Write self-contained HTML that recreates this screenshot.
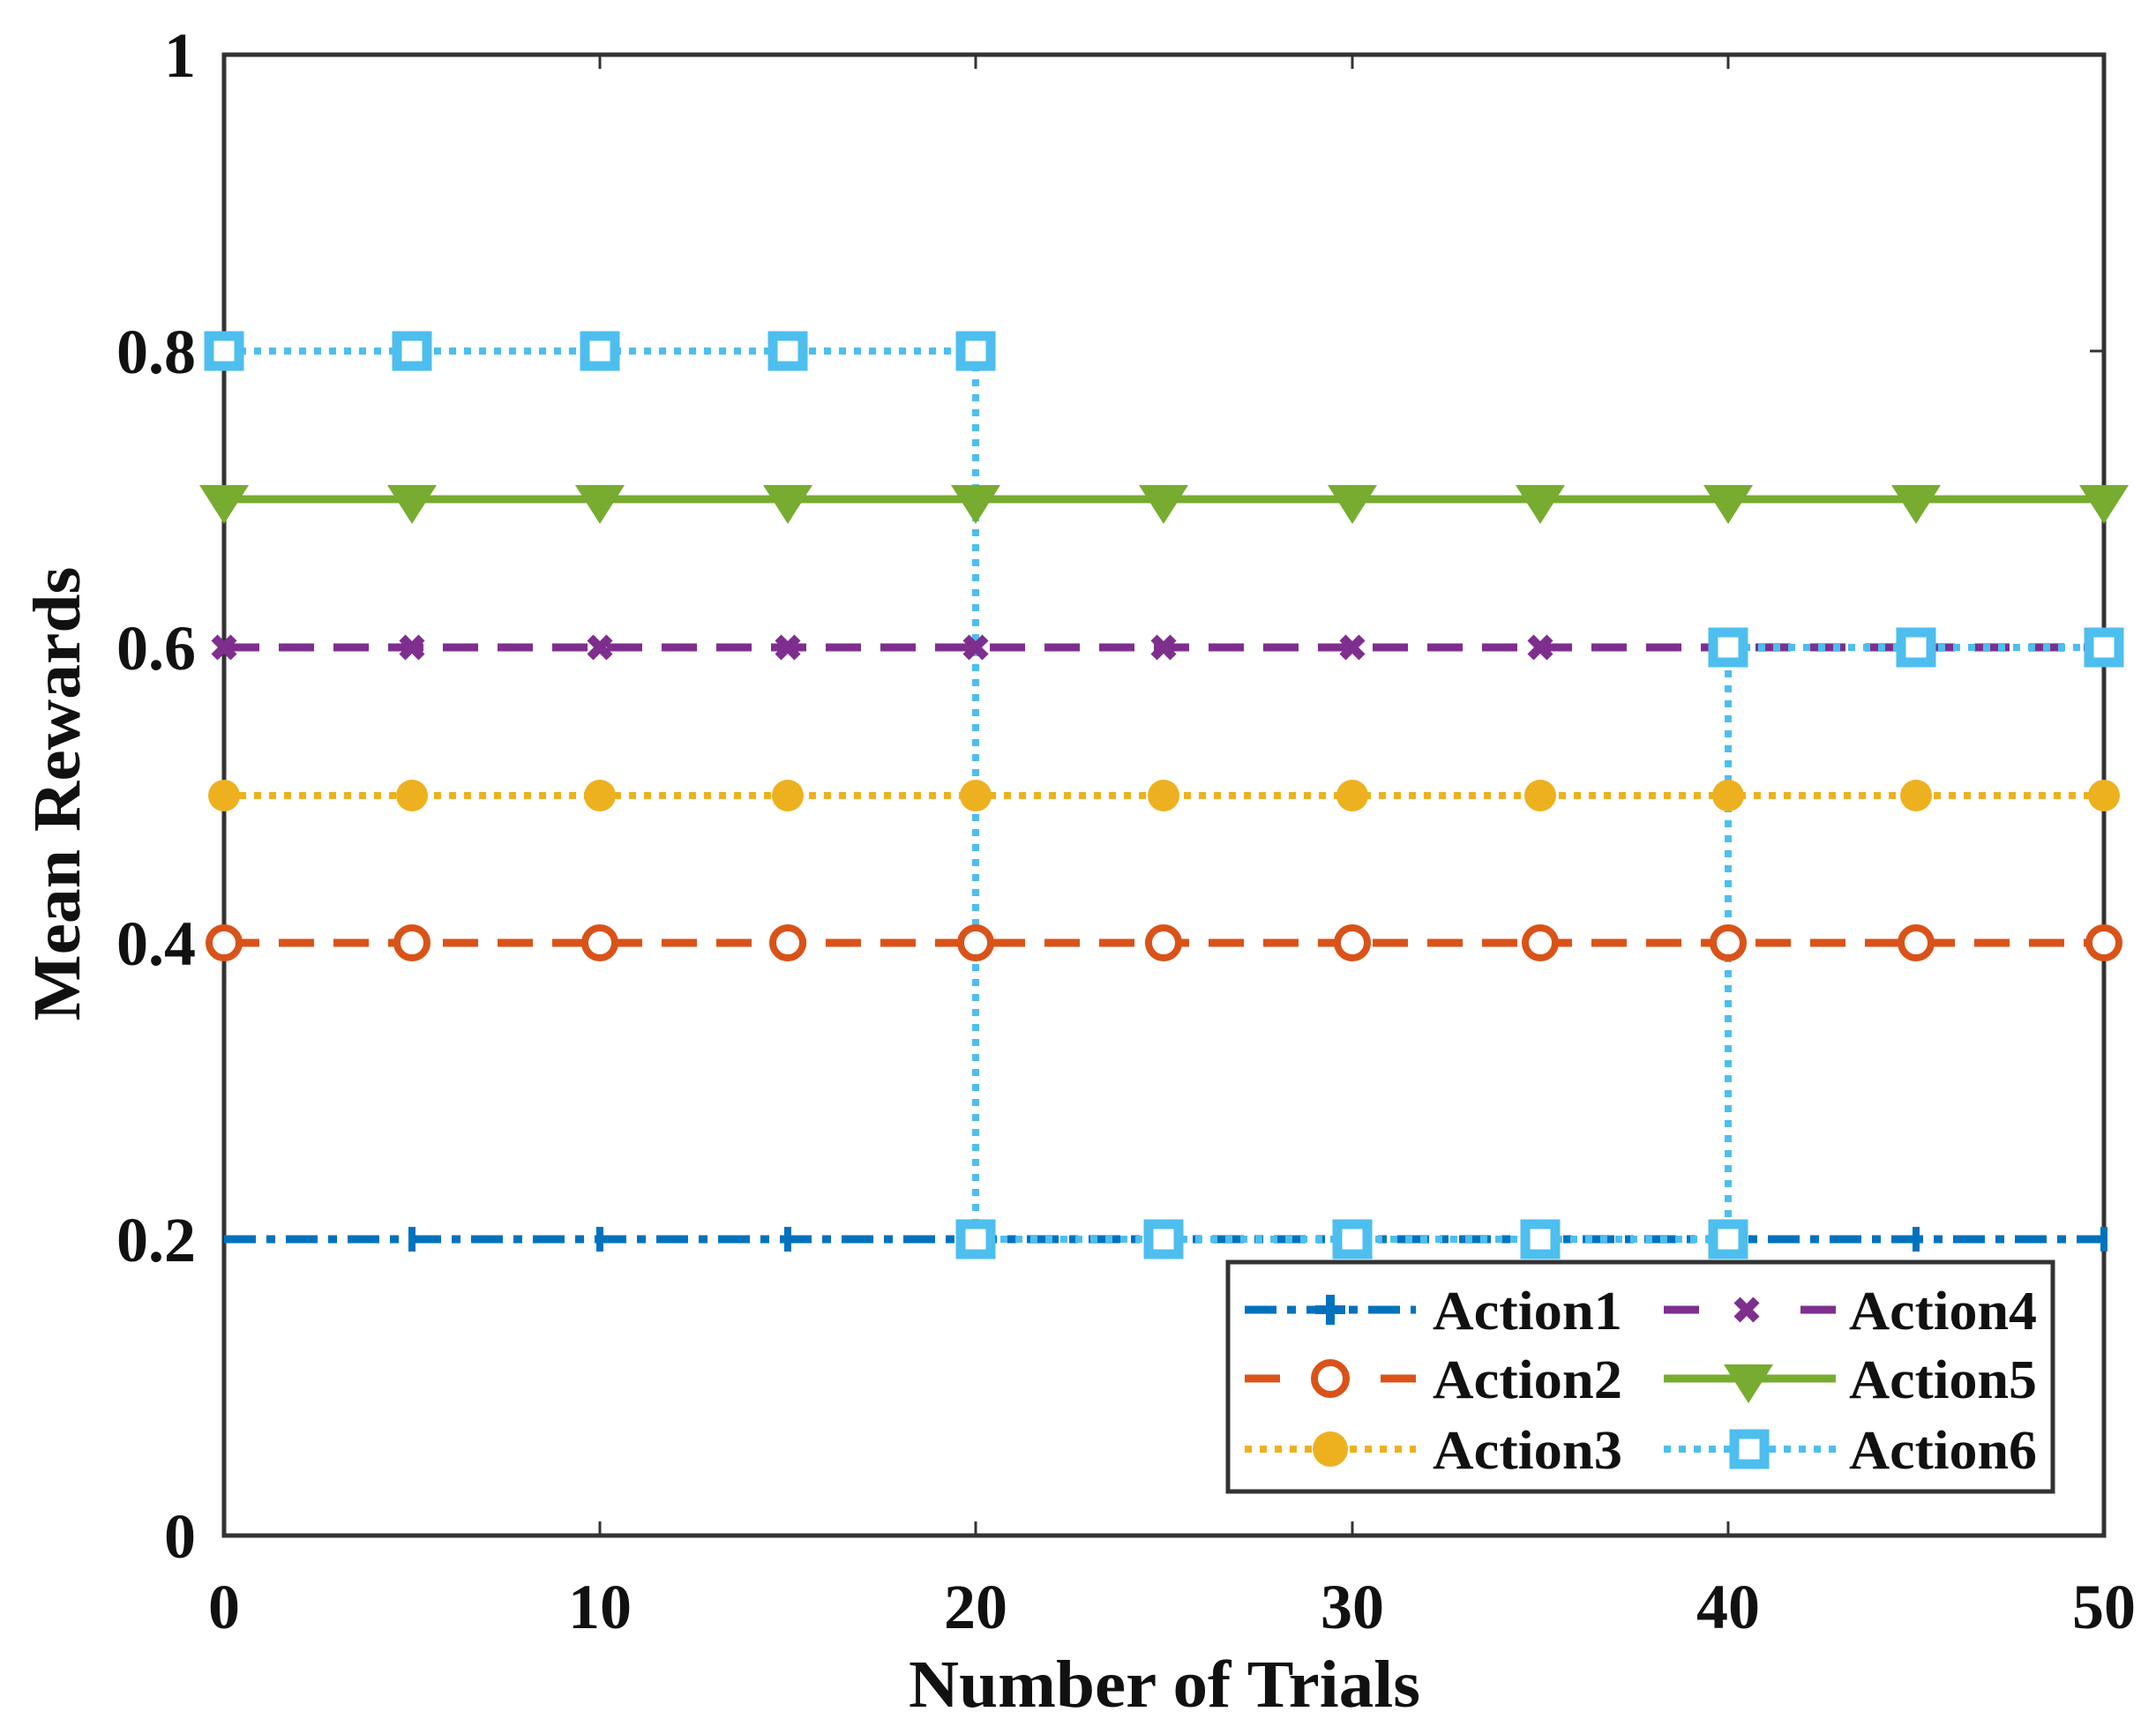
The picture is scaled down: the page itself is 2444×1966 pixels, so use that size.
<!DOCTYPE html>
<html><head><meta charset="utf-8"><style>
html,body{margin:0;padding:0;background:#fff;}
svg{display:block;}
text{font-family:"Liberation Serif",serif;font-weight:bold;fill:#111;}
</style></head><body>
<svg width="2444" height="1966" viewBox="0 0 2444 1966" xmlns="http://www.w3.org/2000/svg">
<defs>
<clipPath id="c"><rect x="200" y="20" width="2244" height="1760"/></clipPath>
</defs>
<rect width="2444" height="1966" fill="#fff"/>
<rect x="254" y="62" width="2131" height="1679" fill="none" stroke="#333" stroke-width="5"/>
<g stroke="#333" stroke-width="3">
<line x1="254" y1="1405" x2="270" y2="1405"/><line x1="2385" y1="1405" x2="2369" y2="1405"/>
<line x1="254" y1="1069" x2="270" y2="1069"/><line x1="2385" y1="1069" x2="2369" y2="1069"/>
<line x1="254" y1="734" x2="270" y2="734"/><line x1="2385" y1="734" x2="2369" y2="734"/>
<line x1="254" y1="398" x2="270" y2="398"/><line x1="2385" y1="398" x2="2369" y2="398"/>
<line x1="680" y1="1741" x2="680" y2="1725"/><line x1="680" y1="62" x2="680" y2="78"/>
<line x1="1106" y1="1741" x2="1106" y2="1725"/><line x1="1106" y1="62" x2="1106" y2="78"/>
<line x1="1533" y1="1741" x2="1533" y2="1725"/><line x1="1533" y1="62" x2="1533" y2="78"/>
<line x1="1959" y1="1741" x2="1959" y2="1725"/><line x1="1959" y1="62" x2="1959" y2="78"/>
</g>
<g font-size="72" text-anchor="end">
<text x="222" y="1766">0</text>
<text x="222" y="1430">0.2</text>
<text x="222" y="1094">0.4</text>
<text x="222" y="759">0.6</text>
<text x="222" y="423">0.8</text>
<text x="222" y="87">1</text>
</g>
<g font-size="72" text-anchor="middle">
<text x="254" y="1846">0</text>
<text x="680" y="1846">10</text>
<text x="1106" y="1846">20</text>
<text x="1533" y="1846">30</text>
<text x="1959" y="1846">40</text>
<text x="2385" y="1846">50</text>
</g>
<text x="1320" y="1935" font-size="76" text-anchor="middle" textLength="580" lengthAdjust="spacingAndGlyphs">Number of Trials</text>
<text transform="translate(90,900) rotate(-90)" font-size="76" text-anchor="middle" textLength="515" lengthAdjust="spacingAndGlyphs">Mean Rewards</text>

<g clip-path="url(#c)">
<line x1="254" y1="566" x2="2385" y2="566" stroke="#77AC30" stroke-width="9"/>
<line x1="254" y1="734" x2="2385" y2="734" stroke="#7E2F8E" stroke-width="9" stroke-dasharray="40 22"/>
<line x1="254" y1="902" x2="2385" y2="902" stroke="#EDB120" stroke-width="8" stroke-dasharray="8 9"/>
<line x1="254" y1="1069" x2="2385" y2="1069" stroke="#D95319" stroke-width="9" stroke-dasharray="40 22"/>
<line x1="254" y1="1405" x2="2385" y2="1405" stroke="#0072BD" stroke-width="9" stroke-dasharray="36 12 10 12"/>
<polyline points="254,398 1106,398 1106,1405 1959,1405 1959,734 2385,734" fill="none" stroke="#4DBEEE" stroke-width="8" stroke-dasharray="8 9"/>
</g>
<g fill="#77AC30">
<path d="M226,550 h56 l-28,44 z"/><path d="M439,550 h56 l-28,44 z"/><path d="M652,550 h56 l-28,44 z"/><path d="M865,550 h56 l-28,44 z"/><path d="M1078,550 h56 l-28,44 z"/><path d="M1291,550 h56 l-28,44 z"/><path d="M1505,550 h56 l-28,44 z"/><path d="M1718,550 h56 l-28,44 z"/><path d="M1931,550 h56 l-28,44 z"/><path d="M2144,550 h56 l-28,44 z"/><path d="M2357,550 h56 l-28,44 z"/>
</g>
<g stroke="#7E2F8E" stroke-width="10">
<path d="M243,723 l22,22 M265,723 l-22,22 M456,723 l22,22 M478,723 l-22,22 M669,723 l22,22 M691,723 l-22,22 M882,723 l22,22 M904,723 l-22,22 M1095,723 l22,22 M1117,723 l-22,22 M1308,723 l22,22 M1330,723 l-22,22 M1522,723 l22,22 M1544,723 l-22,22 M1735,723 l22,22 M1757,723 l-22,22 M1948,723 l22,22 M1970,723 l-22,22 M2161,723 l22,22 M2183,723 l-22,22 M2374,723 l22,22 M2396,723 l-22,22"/>
</g>
<g fill="#EDB120">
<circle cx="254" cy="902" r="18"/><circle cx="467" cy="902" r="18"/><circle cx="680" cy="902" r="18"/><circle cx="893" cy="902" r="18"/><circle cx="1106" cy="902" r="18"/><circle cx="1319" cy="902" r="18"/><circle cx="1533" cy="902" r="18"/><circle cx="1746" cy="902" r="18"/><circle cx="1959" cy="902" r="18"/><circle cx="2172" cy="902" r="18"/><circle cx="2385" cy="902" r="18"/>
</g>
<g fill="#fff" stroke="#D95319" stroke-width="8">
<circle cx="254" cy="1069" r="17"/><circle cx="467" cy="1069" r="17"/><circle cx="680" cy="1069" r="17"/><circle cx="893" cy="1069" r="17"/><circle cx="1106" cy="1069" r="17"/><circle cx="1319" cy="1069" r="17"/><circle cx="1533" cy="1069" r="17"/><circle cx="1746" cy="1069" r="17"/><circle cx="1959" cy="1069" r="17"/><circle cx="2172" cy="1069" r="17"/><circle cx="2385" cy="1069" r="17"/>
</g>
<g stroke="#0072BD" stroke-width="8">
<path d="M467,1391 v28 M680,1391 v28 M893,1391 v28 M1319,1391 v28 M1533,1391 v28 M1746,1391 v28 M1959,1391 v28 M2172,1391 v28 M2385,1391 v28"/>
</g>
<g fill="#fff" stroke="#4DBEEE" stroke-width="11">
<rect x="237" y="381" width="34" height="34"/><rect x="450" y="381" width="34" height="34"/><rect x="663" y="381" width="34" height="34"/><rect x="876" y="381" width="34" height="34"/><rect x="1089" y="381" width="34" height="34"/>
<rect x="1089" y="1388" width="34" height="34"/><rect x="1302" y="1388" width="34" height="34"/><rect x="1516" y="1388" width="34" height="34"/><rect x="1729" y="1388" width="34" height="34"/><rect x="1942" y="1388" width="34" height="34"/>
<rect x="1942" y="717" width="34" height="34"/><rect x="2155" y="717" width="34" height="34"/><rect x="2368" y="717" width="34" height="34"/>
</g>

<rect x="1392" y="1431" width="935" height="260" fill="#fff" stroke="#333" stroke-width="5"/>
<g font-size="62">
<text x="1624" y="1507" textLength="215" lengthAdjust="spacingAndGlyphs">Action1</text>
<text x="1624" y="1585" textLength="215" lengthAdjust="spacingAndGlyphs">Action2</text>
<text x="1624" y="1665" textLength="215" lengthAdjust="spacingAndGlyphs">Action3</text>
<text x="2096" y="1507" textLength="213" lengthAdjust="spacingAndGlyphs">Action4</text>
<text x="2096" y="1585" textLength="213" lengthAdjust="spacingAndGlyphs">Action5</text>
<text x="2096" y="1665" textLength="213" lengthAdjust="spacingAndGlyphs">Action6</text>
</g>
<line x1="1411" y1="1485" x2="1605" y2="1485" stroke="#0072BD" stroke-width="9" stroke-dasharray="36 12 10 12"/>
<path d="M1508,1468 v34 M1491,1485 h34" stroke="#0072BD" stroke-width="10"/>
<path d="M1411,1563 h40 M1565,1563 h40" stroke="#D95319" stroke-width="9"/>
<circle cx="1508" cy="1563" r="18" fill="#fff" stroke="#D95319" stroke-width="8"/>
<line x1="1411" y1="1643" x2="1605" y2="1643" stroke="#EDB120" stroke-width="8" stroke-dasharray="8 9"/>
<circle cx="1508" cy="1643" r="20" fill="#EDB120"/>
<path d="M1886,1485 h40 M2041,1485 h40" stroke="#7E2F8E" stroke-width="9"/>
<path d="M1969,1474 l22,22 M1991,1474 l-22,22" stroke="#7E2F8E" stroke-width="10"/>
<line x1="1886" y1="1563" x2="2081" y2="1563" stroke="#77AC30" stroke-width="9"/>
<path d="M1954,1547 h56 l-28,44 z" fill="#77AC30"/>
<line x1="1886" y1="1643" x2="2081" y2="1643" stroke="#4DBEEE" stroke-width="8" stroke-dasharray="8 9"/>
<rect x="1966" y="1626" width="34" height="34" fill="#fff" stroke="#4DBEEE" stroke-width="11"/>
</svg>
</body></html>
